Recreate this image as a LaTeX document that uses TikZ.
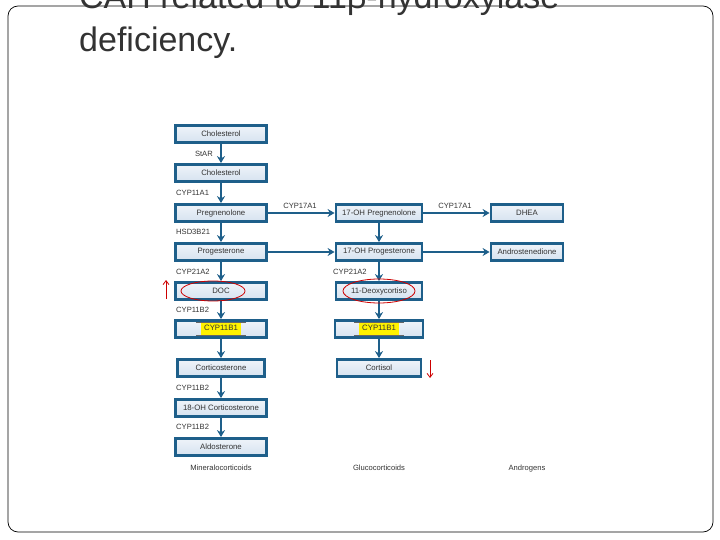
\documentclass[tikz,border=0pt]{standalone}
\usepackage{fontspec}
\setmainfont{Liberation Sans}
\usetikzlibrary{arrows.meta,shadows}
\definecolor{bx}{HTML}{1E5F8A}
\definecolor{bfill}{HTML}{D6E2F0}
\definecolor{lab}{HTML}{333333}
\begin{document}
\begin{tikzpicture}[x=1pt,y=-1pt,
  box/.style={draw=bx,line width=2.8pt,top color=white!60!bfill,bottom color=bfill,minimum width=91pt,minimum height=17pt,inner sep=0pt,font=\fontsize{7.8}{8}\selectfont,text=black!80,drop shadow={shadow xshift=1.2pt,shadow yshift=-1.2pt,opacity=0.3}},
  lbl/.style={font=\fontsize{7.6}{8}\selectfont,text=lab,inner sep=0pt},
  ar/.style={draw=bx,line width=1.5pt,-{Stealth[length=7pt,width=8pt]}},
  red/.style={draw=red!80!black,line width=0.8pt}]
\useasboundingbox (0,0) rectangle (720,540);
\draw[black,line width=0.7pt,rounded corners=10pt] (8,6) rectangle (713,532);
\node[anchor=base west,font=\fontsize{34}{43}\selectfont,text=black!80,align=left,inner sep=0pt] (title) at (79,52) {CAH related to 11β-hydroxylase\\deficiency.};
% left column
\node[box] (c1) at (221,134) {Cholesterol};
\node[box] (c2) at (221,173) {Cholesterol};
\node[box] (p1) at (221,213) {Pregnenolone};
\node[box] (p2) at (221,252) {Progesterone};
\node[box] (doc) at (221,291) {DOC};
\node[box] (b1) at (221,329) {\colorbox{yellow}{\strut CYP11B1}};
\node[box,minimum width=87pt] (cs) at (221,368) {Corticosterone};
\node[box] (oh) at (221,408) {18-OH Corticosterone};
\node[box] (al) at (221,447) {Aldosterone};
% middle
\node[box,minimum width=86pt] (m1) at (379,213) {17-OH Pregnenolone};
\node[box,minimum width=86pt] (m2) at (379,252) {17-OH Progesterone};
\node[box,minimum width=86pt] (m3) at (379,291) {11-Deoxycortiso};
\node[box,minimum width=88pt] (m4) at (379,329) {\colorbox{yellow}{\strut CYP11B1}};
\node[box,minimum width=84pt] (m5) at (379,368) {Cortisol};
% right
\node[box,minimum width=72pt] (r1) at (527,213) {DHEA};
\node[box,minimum width=72pt] (r2) at (527,252) {Androstenedione};
% arrows
\foreach \a/\b in {c1/c2,c2/p1,p1/p2,p2/doc,doc/b1,b1/cs,cs/oh,oh/al,m1/m2,m2/m3,m3/m4,m4/m5}
  \draw[ar] (\a.south) -- (\b.north);
\foreach \a/\b in {p1/m1,p2/m2,m1/r1,m2/r2}
  \draw[ar] (\a.east) -- (\b.west);
% enzyme labels
\node[lbl,anchor=east] (l1) at (213,154) {StAR};
\node[lbl,anchor=west] (l2) at (176,193) {CYP11A1};
\node[lbl,anchor=west] (l3) at (176,232) {HSD3B21};
\node[lbl,anchor=west] (l4) at (176,272) {CYP21A2};
\node[lbl,anchor=west] (l5) at (176,310) {CYP11B2};
\node[lbl,anchor=west] (l6) at (176,388) {CYP11B2};
\node[lbl,anchor=west] (l7) at (176,427) {CYP11B2};
\node[lbl,anchor=west] (l8) at (333,272) {CYP21A2};
\node[lbl] (l9) at (300,206) {CYP17A1};
\node[lbl] (l10) at (455,206) {CYP17A1};
% lines above/below CYP11B1
\foreach \n in {b1,m4}{
  \draw[black!60,line width=0.4pt] ([xshift=-25pt,yshift=-6.5pt]\n.center) -- ([xshift=25pt,yshift=-6.5pt]\n.center);
  \draw[black!60,line width=0.4pt] ([xshift=-25pt,yshift=6.5pt]\n.center) -- ([xshift=25pt,yshift=6.5pt]\n.center);}
% red marks
\draw[red] (213,291) ellipse (32pt and 10pt);
\draw[red] (379,291) ellipse (36pt and 12pt);
\coordinate (u1) at (166,299); \coordinate (u2) at (166,280);
\draw[red,-{Straight Barb[length=4pt,width=6pt]}] (u1) -- (u2);
\coordinate (d1) at (430,360); \coordinate (d2) at (430,378);
\draw[red,-{Straight Barb[length=4pt,width=6pt]}] (d1) -- (d2);
% footers
\node[lbl,anchor=base] (f1) at (221,470) {Mineralocorticoids};
\node[lbl,anchor=base] (f2) at (379,470) {Glucocorticoids};
\node[lbl,anchor=base] (f3) at (527,470) {Androgens};
\end{tikzpicture}
\end{document}
